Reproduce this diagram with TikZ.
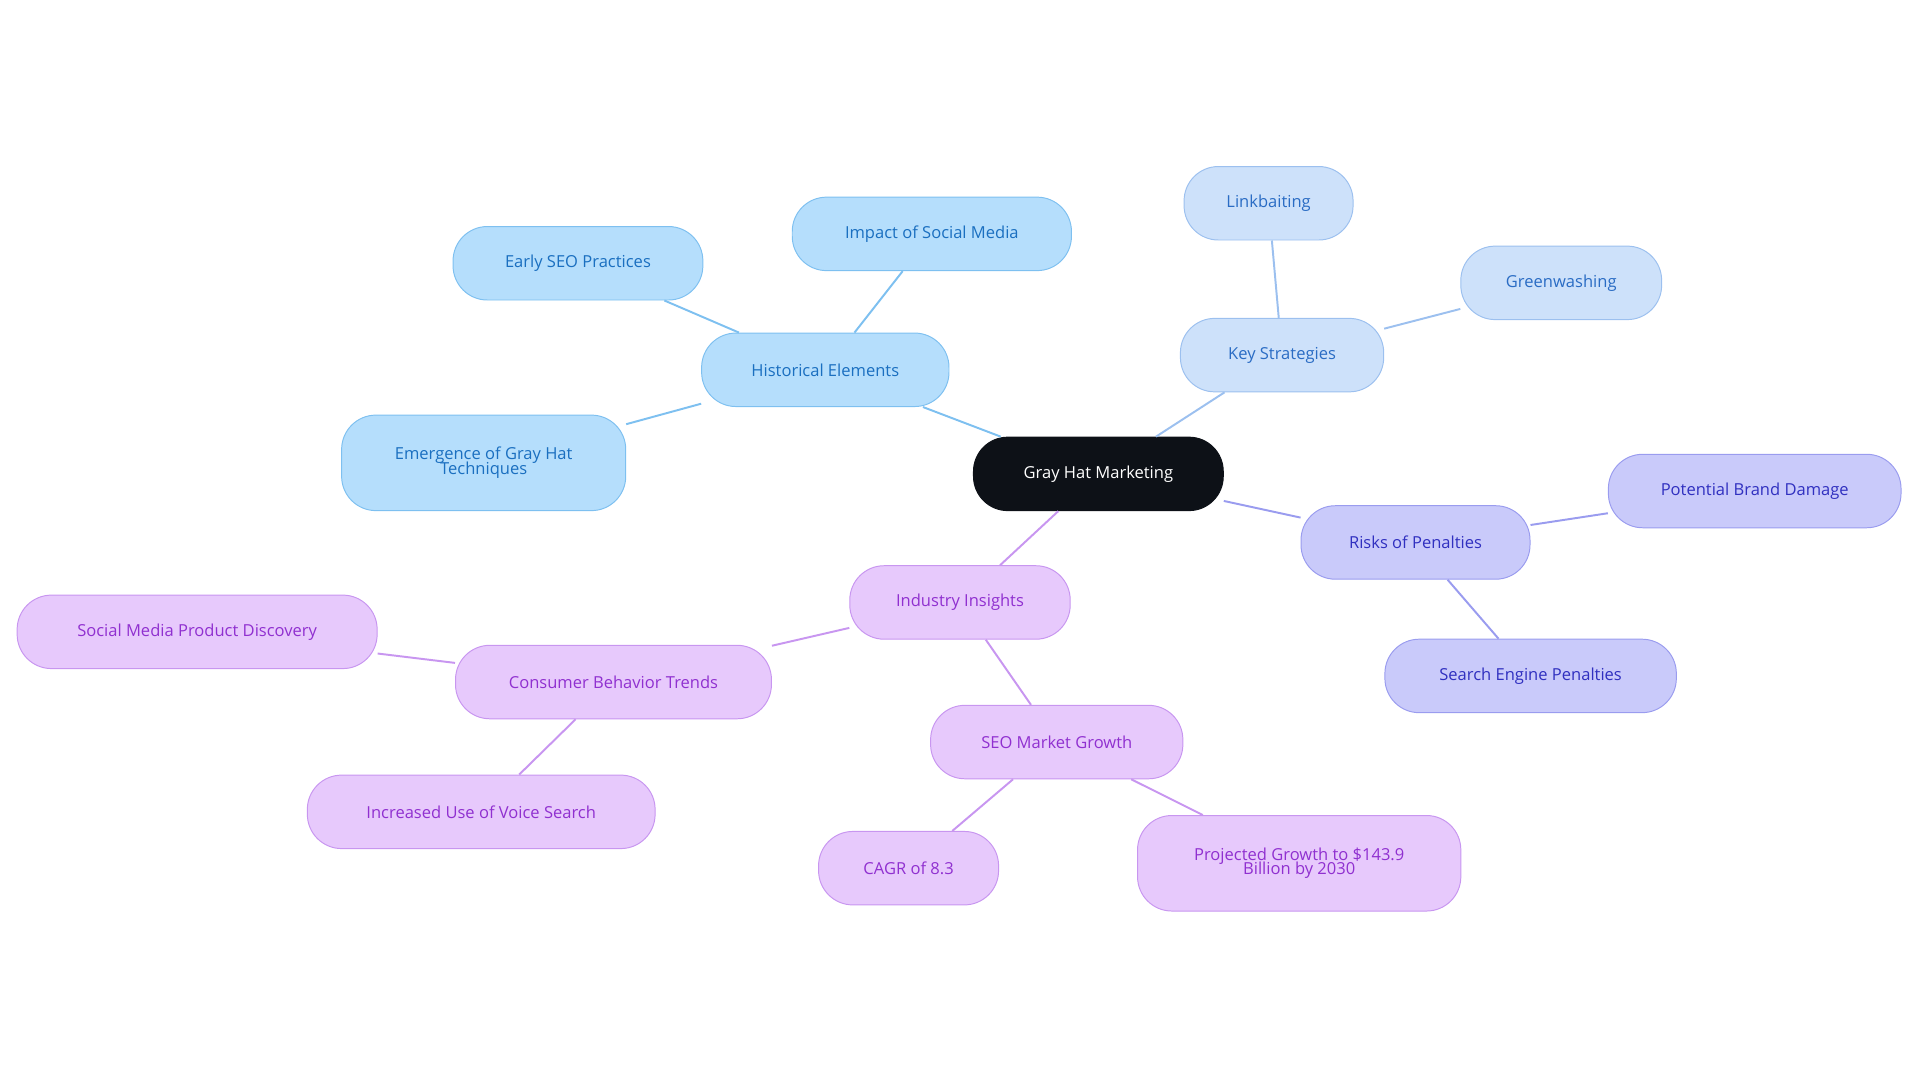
\documentclass[tikz,border=0pt]{standalone}
\usepackage{fontspec}
\setmainfont{Open Sans}
\usetikzlibrary{positioning}
\definecolor{histfill}{HTML}{B5DEFC}
\definecolor{histline}{HTML}{7EC0F0}
\definecolor{histtext}{HTML}{1A6FC0}
\definecolor{keyfill}{HTML}{CDE1FA}
\definecolor{keyline}{HTML}{9CC0EF}
\definecolor{keytext}{HTML}{2A6CC4}
\definecolor{riskfill}{HTML}{C9CAFA}
\definecolor{riskline}{HTML}{9A9CEF}
\definecolor{risktext}{HTML}{3030C0}
\definecolor{indfill}{HTML}{E7C9FC}
\definecolor{indline}{HTML}{C896F0}
\definecolor{indtext}{HTML}{9030D0}
\definecolor{rootfill}{HTML}{0D1117}
\begin{document}
\begin{tikzpicture}[x=1pt,y=-1pt]
\tikzstyle{main}=[rectangle, rounded corners=28pt, minimum height=60pt, inner xsep=8pt, line width=0.8pt, font=\fontsize{13.5}{15}\selectfont, align=center]
\tikzstyle{root}=[main, fill=rootfill, draw=rootfill, text=white]
\tikzstyle{hist}=[main, fill=histfill, draw=histline, text=histtext]
\tikzstyle{key}=[main, fill=keyfill, draw=keyline, text=keytext]
\tikzstyle{risk}=[main, fill=riskfill, draw=riskline, text=risktext]
\tikzstyle{ind}=[main, fill=indfill, draw=indline, text=indtext]
\tikzstyle{connect}=[line width=1.6pt]
\useasboundingbox (0,0) rectangle (1568,884);
  \node[root, minimum width=204pt] (gray) at (897,387) {Gray Hat Marketing};
  \node[hist, minimum width=202pt] (hist) at (674,302) {Historical Elements};
  \node[hist, minimum width=204pt] (early) at (472,215) {Early SEO Practices};
  \node[hist, minimum width=228pt] (social) at (761,191) {Impact of Social Media};
  \node[hist, minimum width=232pt, minimum height=78pt] (emerge) at (395,378) {Emergence of Gray Hat\\[-3pt]Techniques};
  \node[key, minimum width=166pt] (key) at (1047,290) {Key Strategies};
  \node[key, minimum width=138pt] (link) at (1036,166) {Linkbaiting};
  \node[key, minimum width=164pt] (green) at (1275,231) {Greenwashing};
  \node[risk, minimum width=187pt] (risk) at (1156,443) {Risks of Penalties};
  \node[risk, minimum width=239pt] (brand) at (1433,401) {Potential Brand Damage};
  \node[risk, minimum width=238pt] (search) at (1250,552) {Search Engine Penalties};
  \node[ind, minimum width=180pt] (ind) at (784,492) {Industry Insights};
  \node[ind, minimum width=258pt] (consumer) at (501,557) {Consumer Behavior Trends};
  \node[ind, minimum width=294pt] (product) at (161,516) {Social Media Product Discovery};
  \node[ind, minimum width=284pt] (voice) at (393,663) {Increased Use of Voice Search};
  \node[ind, minimum width=206pt] (market) at (863,606) {SEO Market Growth};
  \node[ind, minimum width=147pt] (cagr) at (742,709) {CAGR of 8.3};
  \node[ind, minimum width=264pt, minimum height=78pt] (proj) at (1061,705) {Projected Growth to \$143.9\\[-3pt]Billion by 2030};

  \path [connect, draw=histline]
        (gray) edge (hist) (hist) edge (early) (hist) edge (social) (hist) edge (emerge);
  \path [connect, draw=keyline]
        (gray) edge (key) (key) edge (link) (key) edge (green);
  \path [connect, draw=riskline]
        (gray) edge (risk) (risk) edge (brand) (risk) edge (search);
  \path [connect, draw=indline]
        (gray) edge (ind) (ind) edge (consumer) (consumer) edge (product) (consumer) edge (voice)
        (ind) edge (market) (market) edge (cagr) (market) edge (proj);
\end{tikzpicture}
\end{document}
